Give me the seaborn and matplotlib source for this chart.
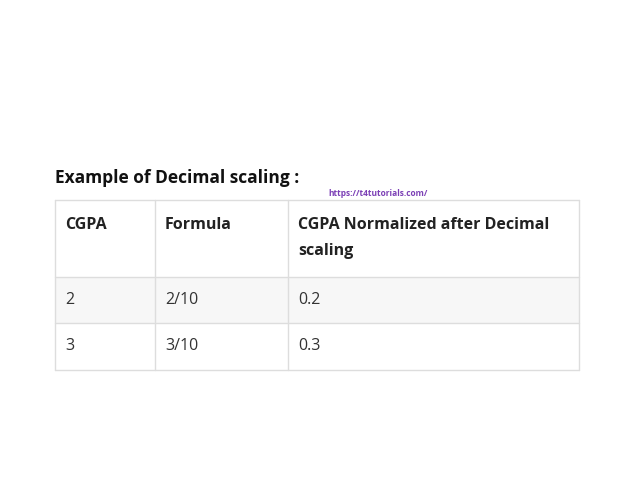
import matplotlib
matplotlib.use("Agg")
import matplotlib.pyplot as plt
import seaborn as sns

# ── table content ─────────────────────────────────────────────
title = "Example of Decimal scaling :"
source_url = "https://t4tutorials.com/"
headers = ["CGPA", "Formula", "CGPA Normalized after Decimal\nscaling"]
cgpa = ["2", "3"]
formula = ["2/10", "3/10"]
normalized = ["0.2", "0.3"]

sns.set_style("white")
plt.rcParams["font.family"] = ["Open Sans", "DejaVu Sans"]

fig = plt.figure(figsize=(6.38, 4.78), dpi=100)
ax = fig.add_axes([0, 0, 1, 1])
ax.set_xlim(0, 638)
ax.set_ylim(478, 0)
ax.axis("off")

col_x = [55, 155, 288, 579]
row_y = [200, 277, 323, 370]
line_col = "#dddddd"

# striped background on first data row
ax.fill_between([col_x[0], col_x[-1]], row_y[1], row_y[2], color="#f7f7f7", lw=0)

for x in col_x:
    ax.plot([x, x], [row_y[0], row_y[-1]], color=line_col, lw=1)
for y in row_y:
    ax.plot([col_x[0], col_x[-1]], [y, y], color=line_col, lw=1)

ax.text(55, 178, title, fontsize=12.5, fontweight="bold", color="#111111", va="center")
ax.text(328, 193, source_url, fontsize=6, fontweight="bold", color="#7b3fb5", va="center")

pad = 10
for i, h in enumerate(headers):
    ax.text(col_x[i] + pad, 217, h, fontsize=11.5, fontweight="bold",
            color="#222222", va="top", linespacing=1.85)

rows = list(zip(cgpa, formula, normalized))
for r, vals in enumerate(rows):
    yc = (row_y[r + 1] + row_y[r + 2]) / 2
    for i, v in enumerate(vals):
        ax.text(col_x[i] + pad, yc, v, fontsize=11.5, color="#333333", va="center")

fig.savefig("out.png", dpi=100, facecolor="white")
